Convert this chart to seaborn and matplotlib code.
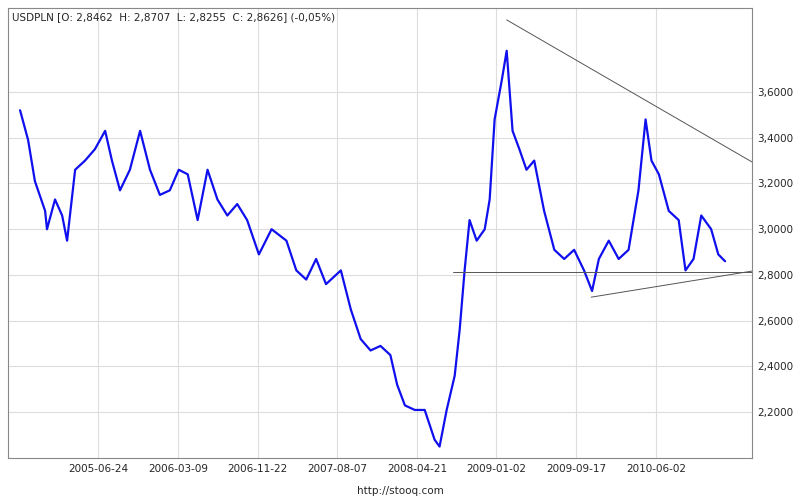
import pandas as pd
import matplotlib
matplotlib.use("Agg")
import matplotlib.pyplot as plt
import matplotlib.dates as mdates
import matplotlib.ticker as mticker
import seaborn as sns

sns.set_theme(style="white")
plt.rcParams["font.family"] = ["DejaVu Sans"]

# USDPLN closes
dates = ["2004-10-15", "2004-11-10", "2004-12-02", "2005-01-04", "2005-01-10", "2005-02-05",
         "2005-02-28", "2005-03-16", "2005-04-11", "2005-05-13", "2005-06-14", "2005-07-17",
         "2005-08-08", "2005-09-03", "2005-10-05", "2005-11-07", "2005-12-09", "2006-01-10",
         "2006-02-11", "2006-03-12", "2006-04-10", "2006-05-12", "2006-06-13", "2006-07-15",
         "2006-08-16", "2006-09-17", "2006-10-19", "2006-11-26", "2007-01-06", "2007-02-23",
         "2007-03-27", "2007-04-28", "2007-05-30", "2007-07-01", "2007-08-18", "2007-09-19",
         "2007-10-21", "2007-11-22", "2007-12-24", "2008-01-25", "2008-02-16", "2008-03-12",
         "2008-04-13", "2008-05-15", "2008-06-16", "2008-07-02", "2008-07-25", "2008-08-20",
         "2008-09-05", "2008-09-21", "2008-10-07", "2008-10-30", "2008-11-25", "2008-12-11",
         "2008-12-27", "2009-01-19", "2009-02-04", "2009-02-23", "2009-03-17", "2009-04-09",
         "2009-05-04", "2009-06-05", "2009-07-08", "2009-08-09", "2009-09-10", "2009-10-12",
         "2009-11-07", "2009-11-29", "2009-12-31", "2010-02-01", "2010-03-05", "2010-04-06",
         "2010-04-29", "2010-05-18", "2010-06-11", "2010-07-13", "2010-08-14", "2010-09-05",
         "2010-10-01", "2010-10-26", "2010-11-27", "2010-12-20", "2011-01-11"]
closes = [3.52, 3.39, 3.21, 3.08, 3.00, 3.13, 3.06, 2.95, 3.26, 3.30, 3.35, 3.43,
          3.30, 3.17, 3.26, 3.43, 3.26, 3.15, 3.17, 3.26, 3.24, 3.04, 3.26, 3.13,
          3.06, 3.11, 3.04, 2.89, 3.00, 2.95, 2.82, 2.78, 2.87, 2.76, 2.82, 2.65,
          2.52, 2.47, 2.49, 2.45, 2.32, 2.23, 2.21, 2.21, 2.08, 2.05, 2.21, 2.36,
          2.56, 2.82, 3.04, 2.95, 3.00, 3.13, 3.48, 3.65, 3.78, 3.43, 3.35, 3.26,
          3.30, 3.08, 2.91, 2.87, 2.91, 2.82, 2.73, 2.87, 2.95, 2.87, 2.91, 3.17,
          3.48, 3.30, 3.24, 3.08, 3.04, 2.82, 2.87, 3.06, 3.00, 2.89, 2.86]

# trend lines drawn on the chart
upper_line = (["2009-02-04", "2011-04-08"], [3.915, 3.294])
flat_line = (["2008-08-14", "2011-04-08"], [2.813, 2.813])
lower_line = (["2009-11-04", "2011-04-08"], [2.703, 2.817])

tick_dates = ["2005-06-24", "2006-03-09", "2006-11-22", "2007-08-07",
              "2008-04-21", "2009-01-02", "2009-09-17", "2010-06-02"]

df = pd.DataFrame({"date": pd.to_datetime(dates), "close": closes})

fig = plt.figure(figsize=(8, 5), dpi=100)
ax = fig.add_axes([0.01, 0.084, 0.93, 0.9])
sns.lineplot(data=df, x="date", y="close", ax=ax, color="#1010ee", linewidth=1.6)

for xs, ys in (upper_line, flat_line, lower_line):
    ax.plot(pd.to_datetime(xs), ys, color="#555555", linewidth=0.7)

ax.set_xlim(pd.Timestamp("2004-09-06"), pd.Timestamp("2011-04-08"))
ax.set_ylim(2.0, 3.967)
ax.set_xticks(pd.to_datetime(tick_dates))
ax.xaxis.set_major_formatter(mdates.DateFormatter("%Y-%m-%d"))
ax.set_yticks([2.2, 2.4, 2.6, 2.8, 3.0, 3.2, 3.4, 3.6])
ax.yaxis.set_major_formatter(mticker.FuncFormatter(lambda v, p: f"{v:.4f}".replace(".", ",")))
ax.yaxis.tick_right()
ax.tick_params(labelsize=7.5, length=0, pad=4)
ax.grid(True, color="#dddddd", linewidth=0.8)
ax.set_xlabel("")
ax.set_ylabel("")
for s in ax.spines.values():
    s.set_color("#888888")
    s.set_linewidth(0.8)

ax.text(0.005, 0.99, "USDPLN [O: 2,8462  H: 2,8707  L: 2,8255  C: 2,8626] (-0,05%)",
        transform=ax.transAxes, fontsize=7.5, va="top", ha="left")
fig.text(0.5, 0.012, "http://stooq.com", fontsize=7.5, ha="center")

fig.savefig("out.png", dpi=100)
